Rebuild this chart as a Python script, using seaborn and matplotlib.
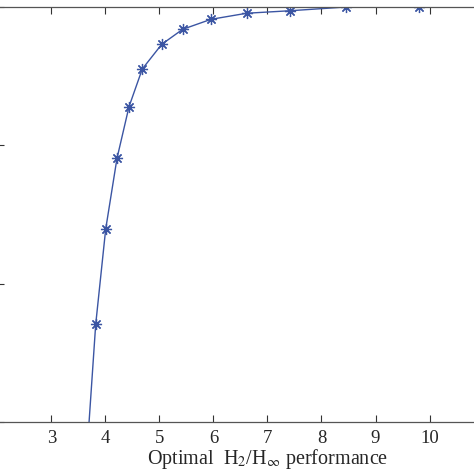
import matplotlib
matplotlib.use('Agg')
import matplotlib.pyplot as plt
import seaborn as sns
import pandas as pd

# values (the y axis labels are cropped away)
perf = [3.56, 3.822, 4.007, 4.216, 4.438, 4.684, 5.043, 5.432, 5.955, 6.616, 7.417, 8.453, 9.81, 11.6]
ratio = [0.62, 0.7706, 0.8395, 0.8906, 0.9279, 0.9552, 0.9730, 0.9839, 0.9911, 0.9955, 0.9973, 1.0, 1.0, 1.0]
xticks = [3, 4, 5, 6, 7, 8, 9, 10]
yticks = [0.7, 0.8, 0.9, 1.0]

df = pd.DataFrame({'perf': perf, 'ratio': ratio})

sns.set_style('ticks')
plt.rcParams['font.family'] = ['Liberation Serif', 'DejaVu Serif']
plt.rcParams['mathtext.fontset'] = 'stix'

fig = plt.figure(figsize=(4.74, 4.74), dpi=100)
# the axes run past the picture on the left and right, as in the cropped original
ax = fig.add_axes([-0.0058, 0.1097, 1.140, 0.8755])

sns.lineplot(data=df, x='perf', y='ratio', ax=ax, color='#3b55a3', lw=1.0,
             marker=(8, 2, 0), markersize=8, markeredgewidth=0.9,
             markeredgecolor='#3b55a3', sort=False)

ax.set_xlim(2, 12)
ax.set_ylim(0.7, 1.0)
ax.set_xticks(xticks)
ax.set_yticks(yticks)
ax.set_xticklabels([str(t) for t in xticks], fontsize=13.5)
ax.set_yticklabels([])
ax.tick_params(direction='in', length=5, width=0.8, color='#333333',
               top=True, right=True, pad=6)
for s in ax.spines.values():
    s.set_color('#555555')
    s.set_linewidth(0.9)
ax.set_xlabel(r'Optimal  H$_2$/H$_\infty$ performance', fontsize=14.5, labelpad=0)
ax.set_ylabel('')

fig.savefig('out.png', dpi=100)
